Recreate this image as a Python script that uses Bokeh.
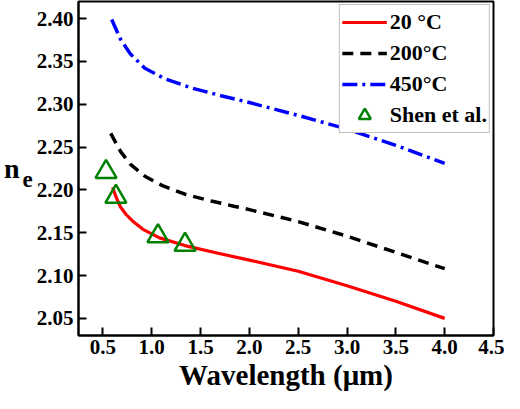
from bokeh.plotting import figure
from bokeh.models import (
    Legend, LegendItem, LinearAxis, FixedTicker, NumeralTickFormatter, Range1d,
)
from bokeh.embed import file_html
from bokeh.resources import INLINE

# extraordinary index n_e vs wavelength (um)
wl_20 = [0.60, 0.63, 0.68, 0.74, 0.80, 0.91, 1.08, 1.34, 1.68, 2.00, 2.50, 3.00, 3.50, 4.00]
ne_20 = [2.203, 2.193, 2.180, 2.171, 2.164, 2.154, 2.144, 2.135, 2.126, 2.118, 2.105, 2.088, 2.070, 2.050]

wl_200 = [0.58, 0.68, 0.78, 0.93, 1.11, 1.34, 1.61, 1.84, 2.00, 2.50, 3.00, 3.50, 4.00]
ne_200 = [2.266, 2.245, 2.230, 2.216, 2.205, 2.195, 2.187, 2.181, 2.177, 2.163, 2.146, 2.127, 2.108]

wl_450 = [0.59, 0.68, 0.78, 0.93, 1.13, 1.41, 1.71, 2.00, 2.50, 3.00, 3.50, 4.00]
ne_450 = [2.399, 2.376, 2.359, 2.342, 2.330, 2.319, 2.310, 2.302, 2.287, 2.271, 2.252, 2.231]

wl_shen = [0.532, 0.633, 1.064, 1.341]
ne_shen = [2.221, 2.192, 2.146, 2.136]

x_ticks = [0.5, 1.0, 1.5, 2.0, 2.5, 3.0, 3.5, 4.0, 4.5]
y_ticks = [2.05, 2.10, 2.15, 2.20, 2.25, 2.30, 2.35, 2.40]

labels = ['20 °C', '200°C', '450°C', 'Shen et al.']

FONT = 'Liberation Serif'

p = figure(
    width=504, height=393,
    x_range=Range1d(0.25, 4.5), y_range=Range1d(2.03, 2.42),
    output_backend='svg', toolbar_location=None,
    min_border_left=60, min_border_right=11,
    min_border_top=1, min_border_bottom=0,
    background_fill_color='white', border_fill_color='white',
)
p.grid.visible = False
p.outline_line_color = 'black'
p.outline_line_width = 2
p.outline_line_alpha = 1.0

for ax in (p.xaxis[0], p.yaxis[0]):
    ax.axis_line_width = 2
    ax.axis_line_color = 'black'
    ax.major_tick_line_width = 2
    ax.major_tick_line_color = 'black'
    ax.major_tick_in = 8
    ax.major_tick_out = 0
    ax.minor_tick_line_color = None
    ax.major_label_text_font = FONT
    ax.major_label_text_font_style = 'bold'
    ax.major_label_text_font_size = '21px'
    ax.major_label_text_color = 'black'
    ax.major_label_standoff = 5
p.xaxis.major_label_standoff = 4

p.xaxis.ticker = FixedTicker(ticks=x_ticks)
p.yaxis.ticker = FixedTicker(ticks=y_ticks)
p.xaxis.formatter = NumeralTickFormatter(format='0.0')
p.yaxis.formatter = NumeralTickFormatter(format='0.00')

p.xaxis.axis_label = 'Wavelength (μm)'
p.xaxis.axis_label_text_font = FONT
p.xaxis.axis_label_text_font_style = 'bold'
p.xaxis.axis_label_text_font_size = '29px'
p.xaxis.axis_label_text_color = 'black'
p.xaxis.axis_label_standoff = 2

# y label n_e: the subscript "e" is the main axis label (pushed down a line),
# "n" sits on an empty outer axis
p.yaxis.axis_label = '\ne'
p.yaxis.axis_label_orientation = 'horizontal'
p.yaxis.axis_label_text_font = FONT
p.yaxis.axis_label_text_font_style = 'bold'
p.yaxis.axis_label_text_font_size = '23px'
p.yaxis.axis_label_text_line_height = 0.9
p.yaxis.axis_label_text_color = 'black'
p.yaxis.axis_label_standoff = 1

n_axis = LinearAxis(
    ticker=FixedTicker(ticks=[]), axis_line_color=None,
    major_tick_line_color=None, minor_tick_line_color=None,
    major_tick_in=0, major_tick_out=0, major_label_standoff=0,
    major_label_text_font_size='0px',
    axis_label='n', axis_label_orientation='horizontal',
    axis_label_text_font=FONT, axis_label_text_font_style='bold',
    axis_label_text_font_size='28px', axis_label_text_color='black',
    axis_label_standoff=0,
)
p.add_layout(n_axis, 'left')

r20 = p.line(wl_20, ne_20, line_color='#ff0000', line_width=3.2)
r200 = p.line(wl_200, ne_200, line_color='black', line_width=3.5, line_dash='11 7')
r450 = p.line(wl_450, ne_450, line_color='#0000ff', line_width=3.5, line_dash='15 5 3 5')
rs = p.scatter(wl_shen, ne_shen, marker='triangle', size=21,
               fill_color=None, line_color='#008000', line_width=2.5)

legend = Legend(
    items=[LegendItem(label=t, renderers=[r]) for t, r in zip(labels, [r20, r200, r450, rs])],
    location='top_right',
    border_line_color='#808080', border_line_width=1,
    background_fill_color='white', background_fill_alpha=1.0,
    label_text_font=FONT, label_text_font_style='bold',
    label_text_font_size='22px', label_text_color='black',
    glyph_width=45, glyph_height=30, label_height=30,
    spacing=1, padding=2, margin=3, label_standoff=3,
)
p.add_layout(legend)

open('out.html', 'w').write(file_html(p, INLINE))
